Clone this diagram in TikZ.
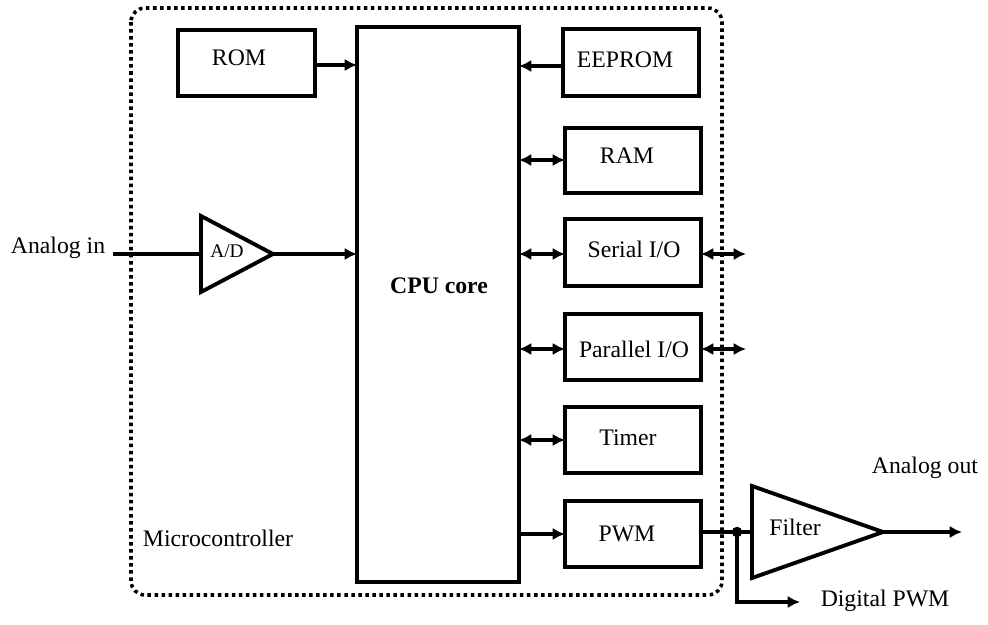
\documentclass[tikz,border=0pt]{standalone}
\usepackage{fontspec}
\setmainfont{Liberation Serif}
\usetikzlibrary{arrows.meta}
\begin{document}
\begin{tikzpicture}[x=0.02cm,y=-0.02cm,
  box/.style={draw,line width=2.2pt,inner sep=0pt},
  conn/.style={line width=1.8pt,-{Latex[length=7pt,width=7pt]}},
  dconn/.style={line width=1.8pt,{Latex[length=7pt,width=7pt]}-{Latex[length=7pt,width=7pt]}},
  lbl/.style={font=\fontsize{13.5}{15}\selectfont}]
\useasboundingbox (0,0) rectangle (988,625);
\draw[line width=2pt,dotted,rounded corners=8pt] (131,8) rectangle (722,595);
\node[lbl] (mc) at (218,538) {Microcontroller};
\draw[box] (178,30) rectangle (315,96); \node[lbl] (rom) at (239,58) {ROM};
\coordinate (romr) at (315,65);
\draw[box] (357,27) rectangle (519,582); \node[lbl,font=\fontsize{13.5}{15}\bfseries] (cpu) at (439,286) {CPU core};
\draw[box] (563,29) rectangle (699,96); \node[lbl] (ee) at (625,60) {EEPROM};
\draw[box] (565,128) rectangle (701,193); \node[lbl] (ram) at (627,156) {RAM};
\draw[box] (565,219) rectangle (701,286); \node[lbl] (ser) at (634,249) {Serial I/O};
\draw[box] (565,314) rectangle (701,380); \node[lbl] (par) at (634,349) {Parallel I/O};
\draw[box] (565,407) rectangle (701,473); \node[lbl] (tim) at (628,438) {Timer};
\draw[box] (565,501) rectangle (701,567); \node[lbl] (pwm) at (627,534) {PWM};
% A/D
\draw[line width=2.2pt] (201,216) -- (273,254) -- (201,292) -- cycle;
\node[lbl,font=\fontsize{11}{12}\selectfont] (ad) at (227,251) {A/D};
\node[lbl] (ain) at (58,248) {Analog in};
\coordinate (ainr) at (113,254);
\draw[line width=1.8pt] (ainr) -- (201,254);
\draw[conn] (273,254) -- (357,254);
\draw[conn] (romr) -- (357,65);
\draw[conn] (563,66) -- (519,66);
\draw[dconn] (519,160) -- (565,160);
\draw[dconn] (519,254) -- (565,254);
\draw[dconn] (701,254) -- (746,254);
\draw[dconn] (519,349) -- (565,349);
\draw[dconn] (701,349) -- (746,349);
\draw[dconn] (519,440) -- (565,440);
\draw[conn] (519,534) -- (565,534);
% Filter
\draw[line width=2.2pt] (752,486) -- (883,532) -- (752,578) -- cycle;
\node[lbl] (fil) at (795,527) {Filter};
\draw[line width=1.8pt] (701,532) -- (752,532);
\fill (737,532) circle (3pt);
\draw[line width=1.8pt,-{Latex[length=7pt,width=7pt]}] (737,532) -- (737,602) -- (800,602);
\node[lbl] (dp) at (885,601) {Digital PWM};
\draw[conn] (883,532) -- (962,532);
\node[lbl] (aout) at (925,468) {Analog out};
\end{tikzpicture}
\end{document}
